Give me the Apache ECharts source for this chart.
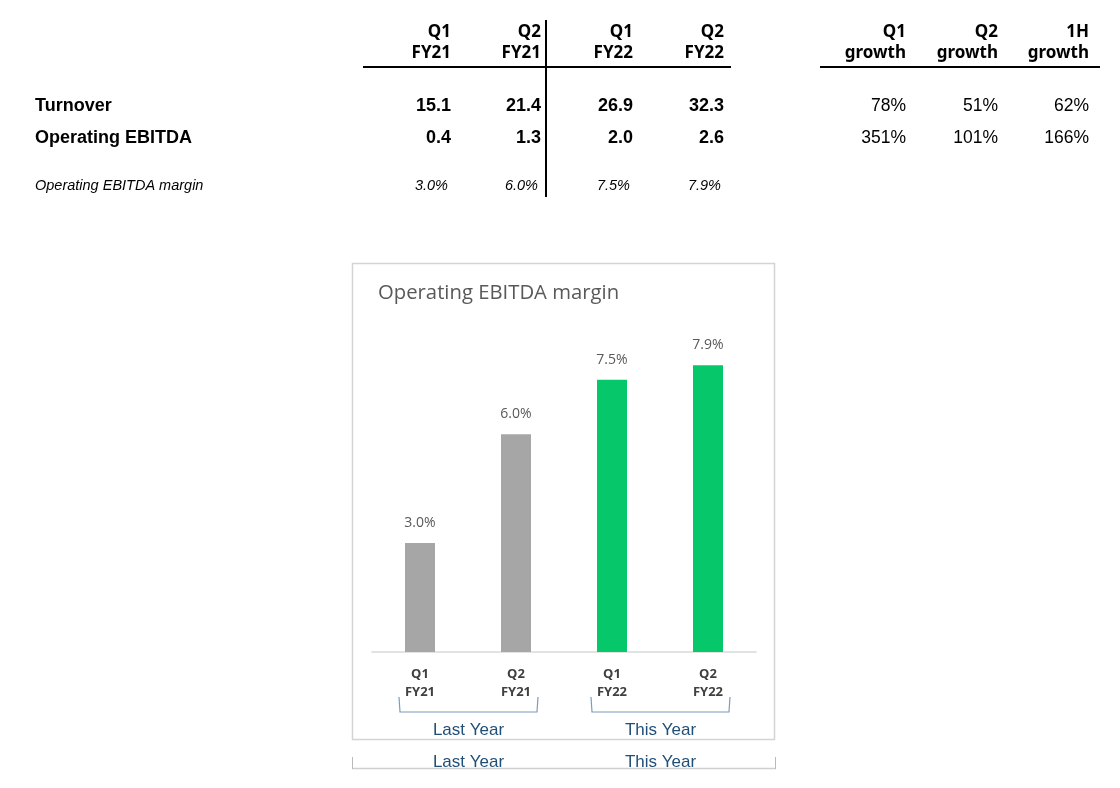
<!DOCTYPE html>
<html>
<head>
<meta charset="utf-8">
<script src="https://cdn.jsdelivr.net/npm/echarts@6/dist/echarts.min.js"></script>
<style>
  html, body { margin: 0; padding: 0; background: #fff; }
  #main { width: 1120px; height: 788px; }
</style>
</head>
<body>
<div id="main"></div>
<script>
// table data
const tableCols = ['Q1\nFY21', 'Q2\nFY21', 'Q1\nFY22', 'Q2\nFY22'];
const turnover = [15.1, 21.4, 26.9, 32.3];
const ebitda = [0.4, 1.3, 2.0, 2.6];
const growthCols = ['Q1\ngrowth', 'Q2\ngrowth', '1H\ngrowth'];
const turnoverGrowth = ['78%', '51%', '62%'];
const ebitdaGrowth = ['351%', '101%', '166%'];

// chart data
const quarters = ['Q1\nFY21', 'Q2\nFY21', 'Q1\nFY22', 'Q2\nFY22'];
const margins = [3.0, 6.0, 7.5, 7.9];
const periodGroups = ['Last Year', 'This Year'];

const grey = '#a6a6a6';
const green = '#07c76b';
const barColors = [grey, grey, green, green];

// column right edges for the table
const colX = [451, 541, 633, 724];
const growthX = [906, 998, 1089];

const headFont = 'bold 17px "Noto Sans", "Open Sans", sans-serif';
const rowFont = 'bold 18px "Liberation Sans", Arial, sans-serif';
const numFont = '17.5px "Liberation Sans", Arial, sans-serif';
const smallFont = 'italic 14.5px "Liberation Sans", Arial, sans-serif';
const groupFont = '17px "Liberation Sans", Arial, sans-serif';

function txt(text, x, y, font, align, fill) {
    return {
        type: 'text', x: x, y: y, silent: true,
        style: { text: text, font: font, fill: fill || '#000', align: align || 'right', verticalAlign: 'middle', lineHeight: 21 }
    };
}

const tableGraphics = [];
tableCols.forEach((c, i) => {
    tableGraphics.push(txt(c, colX[i], 43, headFont));
    tableGraphics.push(txt(turnover[i].toFixed(1), colX[i], 106, rowFont));
    tableGraphics.push(txt(ebitda[i].toFixed(1), colX[i], 138, rowFont));
    tableGraphics.push(txt(margins[i].toFixed(1) + '%', colX[i] - 3, 186, smallFont));
});
growthCols.forEach((c, i) => {
    tableGraphics.push(txt(c, growthX[i], 43, headFont));
    tableGraphics.push(txt(turnoverGrowth[i], growthX[i], 106, numFont));
    tableGraphics.push(txt(ebitdaGrowth[i], growthX[i], 138, numFont));
});
tableGraphics.push(txt('Turnover', 35, 106, rowFont, 'left'));
tableGraphics.push(txt('Operating EBITDA', 35, 138, rowFont, 'left'));
tableGraphics.push(txt('Operating EBITDA margin', 35, 186, smallFont, 'left'));
// rules
tableGraphics.push({ type: 'line', silent: true, shape: { x1: 363, y1: 67, x2: 731, y2: 67 }, style: { stroke: '#000', lineWidth: 2 } });
tableGraphics.push({ type: 'line', silent: true, shape: { x1: 820, y1: 67, x2: 1100, y2: 67 }, style: { stroke: '#000', lineWidth: 2 } });
tableGraphics.push({ type: 'line', silent: true, shape: { x1: 546, y1: 20, x2: 546, y2: 197 }, style: { stroke: '#000', lineWidth: 2 } });

// chart frame
const frameGraphics = [
    { type: 'rect', silent: true, z: -1, shape: { x: 352.5, y: 263.5, width: 422, height: 476 }, style: { fill: 'none', stroke: '#d4d4d4', lineWidth: 1.5 } },
    { type: 'line', silent: true, shape: { x1: 352, y1: 768.5, x2: 776, y2: 768.5 }, style: { stroke: '#cfcfcf', lineWidth: 1.5 } },
    { type: 'line', silent: true, shape: { x1: 352.5, y1: 757, x2: 352.5, y2: 769 }, style: { stroke: '#bbbbbb', lineWidth: 1 } },
    { type: 'line', silent: true, shape: { x1: 775.5, y1: 757, x2: 775.5, y2: 769 }, style: { stroke: '#bbbbbb', lineWidth: 1 } }
];

let chart = echarts.init(document.getElementById('main'));
chart.setOption({
    animation: false,
    title: {
        text: 'Operating EBITDA margin',
        left: 373, top: 278,
        textStyle: { fontFamily: '"Open Sans", "Noto Sans", sans-serif', fontSize: 20.3, fontWeight: 'normal', color: '#595959' }
    },
    grid: { left: 372, top: 289, width: 384, height: 363 },
    xAxis: {
        type: 'category',
        data: quarters,
        axisLine: { lineStyle: { color: '#d9d9d9', width: 1.5 } },
        axisTick: { show: false },
        axisLabel: {
            margin: 13, lineHeight: 18, fontSize: 13, fontWeight: 'bold',
            fontFamily: '"Open Sans", "Noto Sans", sans-serif', color: '#404040'
        }
    },
    yAxis: { type: 'value', min: 0, max: 10, show: false },
    series: [{
        type: 'bar',
        barWidth: 30,
        data: margins.map((v, i) => ({ value: v, itemStyle: { color: barColors[i] } })),
        label: {
            show: true, position: 'top', distance: 13,
            fontSize: 14, color: '#595959',
            fontFamily: '"Open Sans", "Noto Sans", sans-serif',
            formatter: p => p.value.toFixed(1) + '%'
        }
    }],
    graphic: tableGraphics.concat(frameGraphics)
});

// brackets and period labels under the categories
const extra = [];
periodGroups.forEach((g, k) => {
    const a = chart.convertToPixel({ xAxisIndex: 0 }, quarters[k * 2]);
    const b = chart.convertToPixel({ xAxisIndex: 0 }, quarters[k * 2 + 1]);
    const x1 = a - 21, x2 = b + 22, mid = (x1 + x2) / 2;
    extra.push({
        type: 'polyline', silent: true,
        shape: { points: [[x1, 697], [x1 + 1, 712], [x2 - 1, 712], [x2, 697]] },
        style: { stroke: '#7a9cbf', lineWidth: 1.2, fill: 'none' }
    });
    extra.push(txt(g, mid, 730, groupFont, 'center', '#1f4e79'));
    extra.push(txt(g, mid, 762, groupFont, 'center', '#1f4e79'));
});
chart.setOption({ graphic: tableGraphics.concat(frameGraphics, extra) });

window.onresize = () => chart.resize();
</script>
</body>
</html>
